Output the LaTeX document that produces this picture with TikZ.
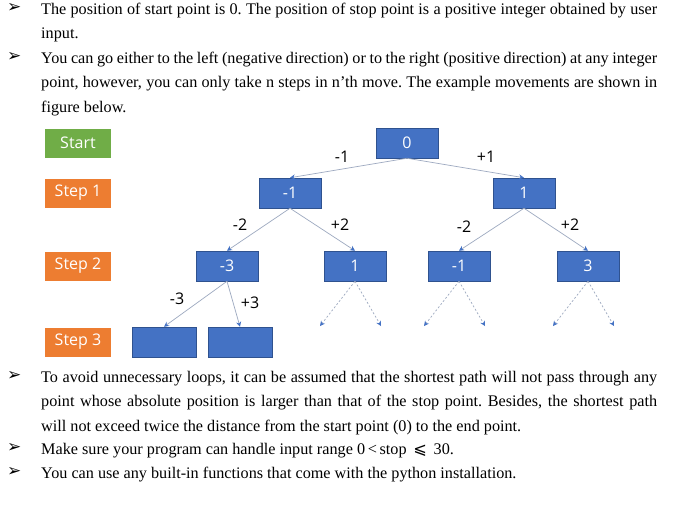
\documentclass[tikz,border=0pt]{standalone}
\usepackage{fontspec}
\setmainfont{Liberation Serif}
\newfontfamily\symf{DejaVu Sans}
\newfontfamily\symb{DejaVu Sans Bold}
\newfontfamily\lab{Open Sans}
\usetikzlibrary{arrows.meta}
\definecolor{bx}{HTML}{4472C4}
\definecolor{bxd}{HTML}{2F528F}
\definecolor{gr}{HTML}{70AD47}
\definecolor{og}{HTML}{ED7D31}
\definecolor{ln}{HTML}{9DA9C0}
\begin{document}
\frenchspacing
\begin{tikzpicture}[x=1pt,y=-1pt,
  blk/.style={draw=bxd,line width=0.5pt,fill=bx,minimum width=62pt,minimum height=30pt,inner sep=0pt,text=white,font=\lab\fontsize{16}{16}\selectfont},
  side/.style={draw=white,minimum width=67pt,minimum height=30pt,inner sep=0pt,text=white,font=\lab\fontsize{16}{16}\selectfont},
  edg/.style={draw=ln,line width=0.7pt,-{Stealth[length=5pt,width=5pt,fill=bx,color=bx]}},
  dedg/.style={edg,dash pattern=on 2pt off 2pt},
  el/.style={font=\lab\fontsize{16}{16}\selectfont},
  bul/.style={anchor=north west,inner sep=0pt,text width=616pt,align=justify,font=\fontsize{16.2}{24.3}\selectfont},
  mk/.style={anchor=north west,inner sep=0pt,font=\symb\fontsize{17}{17}\selectfont}]
\useasboundingbox (0,0) rectangle (700,504);
\fill[white] (0,0) rectangle (700,504);
% top text
\node[mk] (m1) at (7,3) {➢};
\node[bul] (t1) at (41,3) {The position of start point is 0. The position of stop point is a positive integer obtained by user\linebreak input.};
\node[mk] (m2) at (7,52) {➢};
\node[bul] (t2) at (41,52) {You can go either to the left (negative direction) or to the right (positive direction) at any integer\linebreak point, however, you can only take n steps in n'th move. The example movements are shown in\linebreak figure below.};
% side labels
\node[side,fill=gr] (s0) at (78,143) {Start};
\node[side,fill=og] (s1) at (78,193) {Step 1};
\node[side,fill=og] (s2) at (78,266) {Step 2};
\node[side,fill=og] (s3) at (78,342) {Step 3};
% tree
\node[blk] (n0) at (407,143) {0};
\node[blk] (a) at (290,193) {-1};
\node[blk] (b) at (524,193) {1};
\node[blk] (aa) at (227,266) {-3};
\node[blk] (ab) at (355,266) {1};
\node[blk] (ba) at (459,266) {-1};
\node[blk] (bb) at (588,266) {3};
\node[blk,minimum width=64pt] (c1) at (164,342) {};
\node[blk,minimum width=64pt] (c2) at (240,342) {};
\draw[edg] (n0.south) -- (a.north);
\draw[edg] (n0.south) -- (b.north);
\draw[edg] (a.south) -- (aa.north);
\draw[edg] (a.south) -- (ab.north);
\draw[edg] (b.south) -- (ba.north);
\draw[edg] (b.south) -- (bb.north);
\draw[edg] (aa.south) -- (c1.north);
\draw[edg] (aa.south) -- (c2.north);
\node[el] (l1) at (342,157) {-1};
\node[el] (l2) at (486,157) {+1};
\node[el] (l3) at (240,225) {-2};
\node[el] (l4) at (340,225) {+2};
\node[el] (l5) at (464,227) {-2};
\node[el] (l6) at (570,225) {+2};
\node[el] (l7) at (177,299) {-3};
\node[el] (l8) at (250,303) {+3};
\foreach \n/\x in {ab/355,ba/459,bb/588}{
  \coordinate (\n L) at (\x-35,326);
  \coordinate (\n R) at (\x+26,326);
  \draw[dedg] (\n.south) -- (\n L);
  \draw[dedg] (\n.south) -- (\n R);
}
% bottom text
\node[mk] (m3) at (7,371) {➢};
\node[bul] (t3) at (41,371) {To avoid unnecessary loops, it can be assumed that the shortest path will not pass through any\linebreak point whose absolute position is larger than that of the stop point. Besides, the shortest path\linebreak will not exceed twice the distance from the start point (0) to the end point.};
\node[mk] (m4) at (7,443) {➢};
\node[bul] (t4) at (41,443) {Make sure your program can handle input range 0\,<\,stop \,{\symf ⩽}\, 30.};
\node[mk] (m5) at (7,467) {➢};
\node[bul] (t5) at (41,467) {You can use any built-in functions that come with the python installation.};
\end{tikzpicture}
\end{document}
